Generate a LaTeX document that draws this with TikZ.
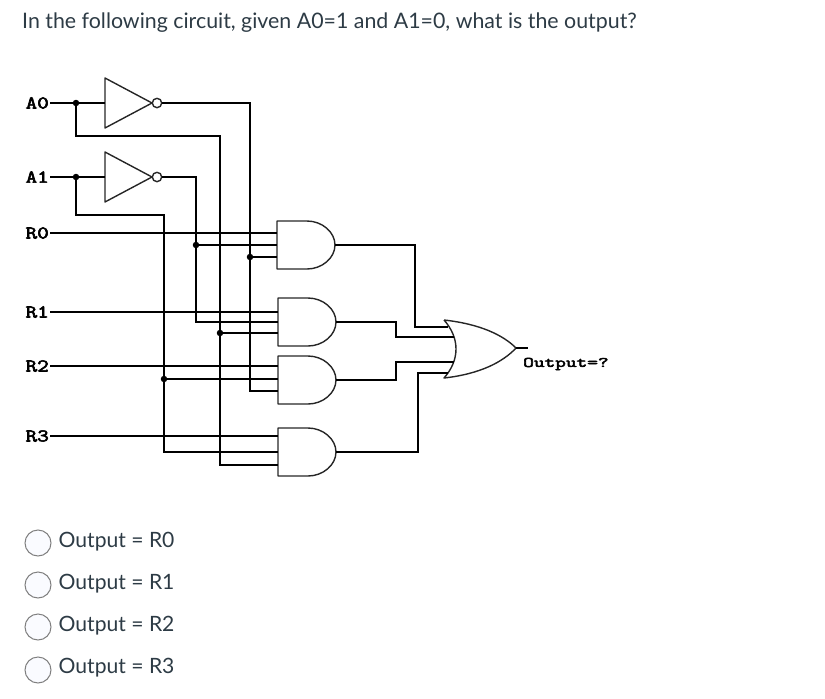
\documentclass[tikz,border=0pt]{standalone}
\usepackage{fontspec}
\setmainfont{Lato}
\newfontfamily\pinfont[FakeBold=3]{Latin Modern Mono}
\definecolor{radiofill}{RGB}{250,251,255}
\definecolor{inktext}{RGB}{45,59,69}
\tikzset{
  wire/.style={line width=1.6pt,line join=miter},
  gateline/.style={line width=1.4pt,draw=black!85,line join=round},
  dot/.style={circle,fill=black,inner sep=0pt,minimum size=6.5pt},
  pinlabel/.style={font=\pinfont\fontsize{18}{18}\selectfont,inner sep=1pt,anchor=east},
  answer/.style={font=\fontsize{21.1}{21}\selectfont,text=inktext,inner sep=0pt,anchor=west},
  radio/.style={circle,draw=gray,fill=radiofill,line width=1pt,inner sep=0pt,minimum size=26pt},
  inverter/.pic={
    \draw[gateline] (0,-25)--(47,0)--(0,25)--cycle;
    \draw[gateline] (52,0) circle (4.7);
    \coordinate (-in) at (0,0);
    \coordinate (-out) at (56.7,0);
  },
  andgate/.pic={
    \draw[gateline] (30,-24)--(0,-24)--(0,24)--(30,24)
      .. controls (45,24) and (58,13) .. (58,0)
      .. controls (58,-13) and (45,-24) .. (30,-24);
    \coordinate (-out) at (58,0);
  },
}
\begin{document}
\begin{tikzpicture}[x=1pt,y=-1pt]
\useasboundingbox (0,0) rectangle (825,699);
\node[anchor=west,inner sep=0pt,font=\fontsize{21.35}{22}\selectfont,text=inktext] (title) at (22,23) {In the following circuit, given A0=1 and A1=0, what is the output?};

\node[pinlabel] (A0) at (50,103) {\scalebox{1.25}[1]{A0}};
\node[pinlabel] (A1) at (50,177) {\scalebox{1.25}[1]{A1}};
\node[pinlabel] (R0) at (50,233) {\scalebox{1.25}[1]{R0}};
\node[pinlabel] (R1) at (50,312) {\scalebox{1.25}[1]{R1}};
\node[pinlabel] (R2) at (50,366) {\scalebox{1.25}[1]{R2}};
\node[pinlabel] (R3) at (50,436) {\scalebox{1.25}[1]{R3}};

\pic (inva) at (105,103) {inverter};
\pic (invb) at (105,177) {inverter};
\pic (anda) at (277,245) {andgate};
\pic (andb) at (278,322) {andgate};
\pic (andc) at (278,380) {andgate};
\pic (andd) at (278,452) {andgate};

\draw[gateline] (444,320) .. controls (480,324) and (503,335) .. (516,348)
  .. controls (503,362) and (480,374) .. (444,378)
  .. controls (460,360) and (460,338) .. (444,320);
\coordinate (orout) at (516,348);
\coordinate (ora) at (448,327);
\coordinate (orb) at (454,337);
\coordinate (orc) at (454,362);
\coordinate (ord) at (448,373);
\node[font=\pinfont\fontsize{14.5}{15}\selectfont,inner sep=0pt,anchor=west] (output) at (523,364) {\scalebox{1.43}[1]{Output=?}};
\coordinate (outend) at (528,348);

\coordinate (ana) at (277,233);
\coordinate (anb) at (277,245);
\coordinate (anc) at (277,257);
\coordinate (bna) at (278,312);
\coordinate (bnb) at (278,322);
\coordinate (bnc) at (278,333);
\coordinate (cna) at (278,366);
\coordinate (cnb) at (278,379);
\coordinate (cnc) at (278,391);
\coordinate (dna) at (278,436);
\coordinate (dnb) at (278,452);
\coordinate (dnc) at (278,465);

\coordinate (tapa) at (76,103);
\coordinate (tapb) at (76,177);
\coordinate (turna) at (76,136);
\coordinate (turnb) at (76,215);
\coordinate (colA) at (220,136);
\coordinate (colB) at (164,215);
\coordinate (cola) at (250,103);
\coordinate (colb) at (196,177);

\draw[wire] (A0.east)--(inva-in);
\draw[wire] (A1.east)--(invb-in);
\draw[wire] (tapa)--(turna)--(colA)--(colA |- dnc)--(dnc);
\draw[wire] (tapb)--(turnb)--(colB)--(colB |- dnb)--(dnb);
\draw[wire] (inva-out)--(cola)--(cola |- cnc)--(cnc);
\draw[wire] (invb-out)--(colb)--(colb |- bnb)--(bnb);

\draw[wire] (R0.east)--(ana);
\draw[wire] (R1.east)--(bna);
\draw[wire] (R2.east)--(cna);
\draw[wire] (R3.east)--(dna);
\draw[wire] (colb |- anb)--(anb);
\draw[wire] (cola |- anc)--(anc);
\draw[wire] (colA |- bnc)--(bnc);
\draw[wire] (colB |- cnb)--(cnb);

\node[dot] (juna) at (tapa) {};
\node[dot] (junb) at (tapb) {};
\node[dot] (junc) at (colb |- anb) {};
\node[dot] (jund) at (cola |- anc) {};
\node[dot] (june) at (colA |- bnc) {};
\node[dot] (junf) at (colB |- cnb) {};

\draw[wire] (anda-out)--(415,245)--(415,327)--(ora);
\draw[wire] (andb-out)--(396,322)--(396,337)--(orb);
\draw[wire] (andc-out)--(396,380)--(396,362)--(orc);
\draw[wire] (andd-out)--(418,452)--(418,373)--(ord);
\draw[wire] (orout)--(outend);

\node[radio] (opta) at (38,543) {};
\node[radio] (optb) at (38,585) {};
\node[radio] (optc) at (38,627) {};
\node[radio] (optd) at (38,670) {};
\node[answer] (texta) at (58.5,542) {Output = R0};
\node[answer] (textb) at (58.5,584) {Output = R1};
\node[answer] (textc) at (58.5,626) {Output = R2};
\node[answer] (textd) at (58.5,668) {Output = R3};
\end{tikzpicture}
\end{document}
